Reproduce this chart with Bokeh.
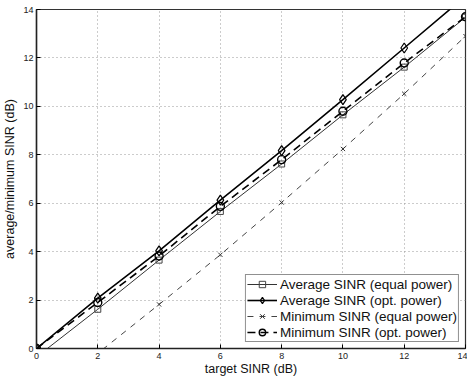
from bokeh.plotting import figure
from bokeh.models import Range1d, FixedTicker, Legend, LegendItem
from bokeh.embed import file_html
from bokeh.resources import INLINE

x = [0, 2, 4, 6, 8, 10, 12, 14]
avg_equal = [-0.35, 1.62, 3.65, 5.66, 7.62, 9.65, 11.62, 13.68]
avg_opt = [0.0, 2.08, 4.03, 6.13, 8.17, 10.28, 12.41, 14.55]
min_equal = [-2.2, -0.2, 1.82, 3.87, 6.03, 8.24, 10.52, 12.9]
min_opt = [0.0, 1.9, 3.82, 5.87, 7.8, 9.8, 11.79, 13.7]
ticks = [0, 2, 4, 6, 8, 10, 12, 14]

FONT = "Liberation Sans"

p = figure(width=467, height=378, output_backend="svg", toolbar_location=None,
           x_range=Range1d(0, 14), y_range=Range1d(0, 14),
           min_border_left=26, min_border_top=9, min_border_right=2, min_border_bottom=20)
p.outline_line_color = "#333333"
p.outline_line_width = 1.2

for ax in [p.xaxis[0], p.yaxis[0]]:
    ax.ticker = FixedTicker(ticks=ticks)
    ax.major_tick_in = 4
    ax.major_tick_out = 0
    ax.minor_tick_line_color = None
    ax.major_label_text_font = FONT
    ax.major_label_text_font_size = "9px"
    ax.major_label_text_color = "#222222"
    ax.axis_label_text_font = FONT
    ax.axis_label_text_font_size = "12.5px"
    ax.axis_label_text_font_style = "normal"
    ax.axis_label_text_color = "#111111"
    ax.axis_line_color = "#222222"
    ax.axis_line_width = 1.5
p.xaxis.axis_label = "target SINR (dB)"
p.yaxis.axis_label = "average/minimum SINR (dB)"
p.xaxis.major_label_standoff = 4
p.yaxis.major_label_standoff = 3
p.xaxis.axis_label_standoff = 0
p.yaxis.axis_label_standoff = 3

p.grid.ticker = FixedTicker(ticks=ticks)
p.grid.grid_line_color = "#999999"
p.grid.grid_line_dash = "1 3"
p.grid.grid_line_width = 1

l1 = p.line(x, avg_equal, line_color="#333333", line_width=1)
m1 = p.scatter(x, avg_equal, marker="square", size=6, fill_color=None, line_color="#444444", line_width=1)
l2 = p.line(x, avg_opt, line_color="black", line_width=1.6)
m2 = p.scatter(x, avg_opt, marker="diamond", size=10, fill_color=None, line_color="black", line_width=1.2)
l3 = p.line(x, min_equal, line_color="#444444", line_width=1, line_dash="6 6")
m3 = p.scatter(x, min_equal, marker="x", size=6, line_color="#333333", line_width=1)
l4 = p.line(x, min_opt, line_color="black", line_width=1.6, line_dash="8 5")
m4 = p.scatter(x, min_opt, marker="circle", size=8, fill_color=None, line_color="black", line_width=1.4)

legend = Legend(items=[
    LegendItem(label="Average SINR (equal power)", renderers=[l1, m1]),
    LegendItem(label="Average SINR (opt. power)", renderers=[l2, m2]),
    LegendItem(label="Minimum SINR (equal power)", renderers=[l3, m3]),
    LegendItem(label="Minimum SINR (opt. power)", renderers=[l4, m4]),
], location="bottom_right")
legend.label_text_font = FONT
legend.label_text_font_size = "13.5px"
legend.label_text_color = "#111111"
legend.border_line_color = "#222222"
legend.border_line_width = 1
legend.background_fill_alpha = 1
legend.glyph_width = 30
legend.glyph_height = 16
legend.label_height = 16
legend.spacing = 0
legend.padding = 1
legend.margin = 6
legend.label_standoff = 3
p.add_layout(legend)

open("out.html", "w").write(file_html(p, INLINE))
